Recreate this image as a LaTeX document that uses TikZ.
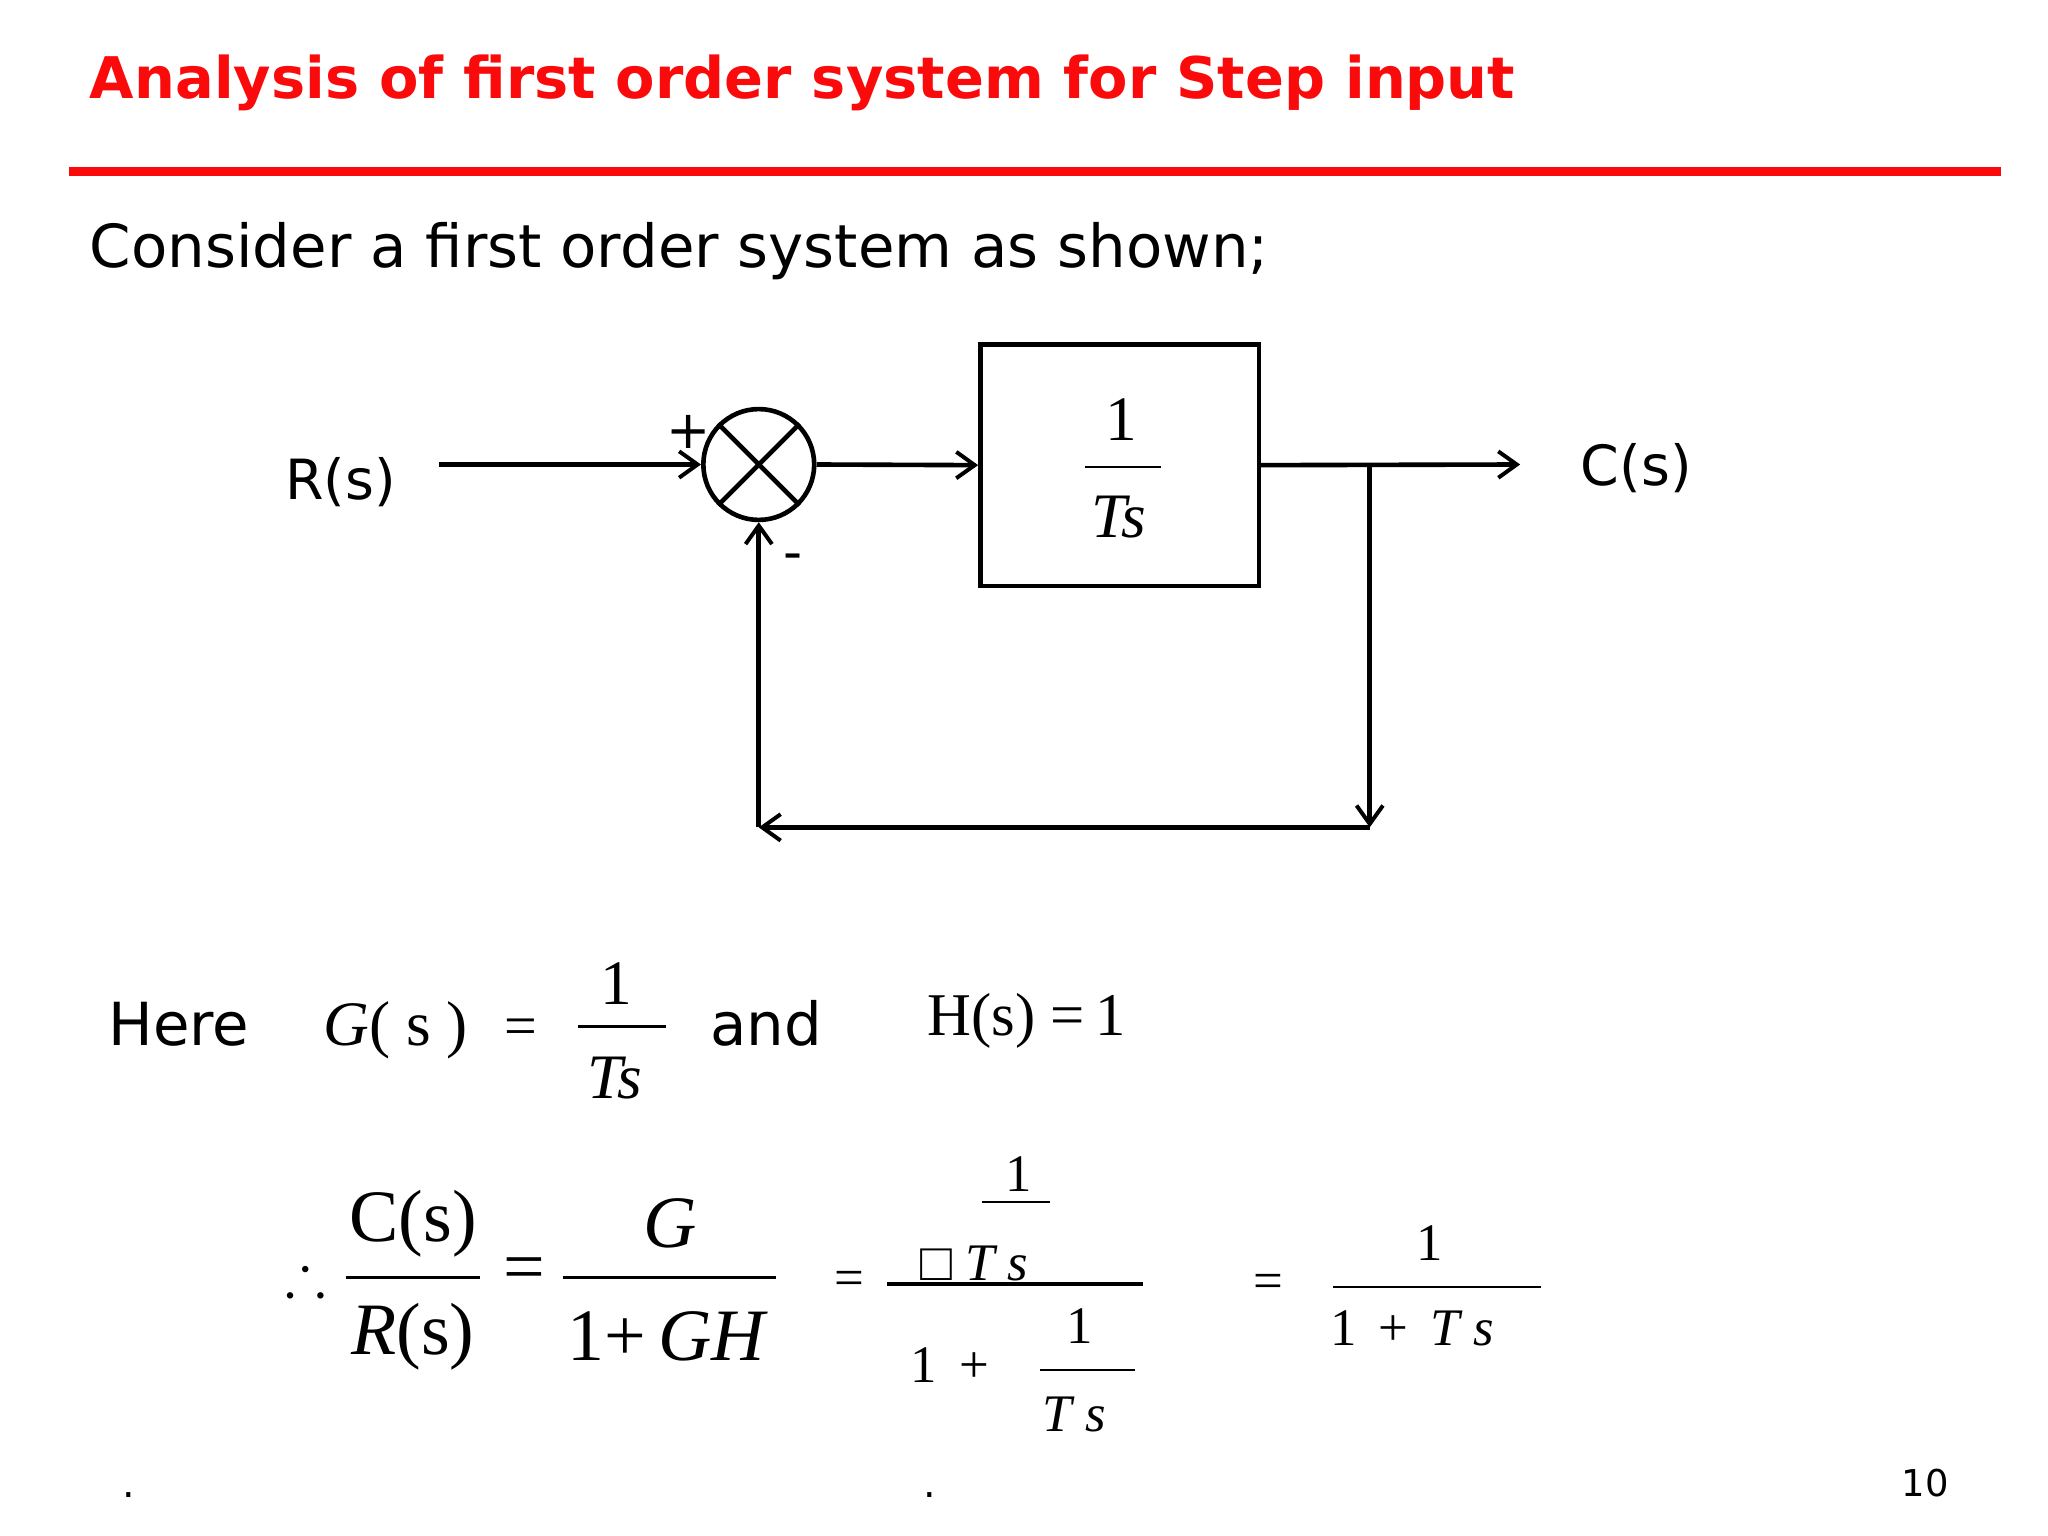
\documentclass[tikz,border=0pt]{standalone}
\usepackage{amssymb}
\usepackage{fontspec}
\setmainfont{DejaVu Sans}
\newfontfamily\tms{Liberation Serif}
\usetikzlibrary{arrows.meta}
\definecolor{tred}{RGB}{250,10,10}
\begin{document}
\begin{tikzpicture}[x=1pt,y=-1pt,
  wire/.style={line width=3.5pt},
  arr/.style={wire,-{Straight Barb[length=14pt,width=20pt,line width=3pt]}},
  txt/.style={inner sep=0pt,anchor=base west},
  fs/.style={font=\fontsize{#1}{#1}\selectfont},
  sr/.style={inner sep=0pt,font=\fontsize{#1}{#1}\selectfont\tms},
  fr/.style={line width=2pt}]
\useasboundingbox (0,0) rectangle (1552,1164);
\fill[white] (0,0) rectangle (1552,1164);
\node[txt,text=tred,font=\fontsize{43.5}{43.5}\selectfont\bfseries] (title) at (68,75) {Analysis of first order system for Step input};
\coordinate (l1) at (52,130); \coordinate (l2) at (1516,130);
\draw[tred,line width=7pt] (l1)--(l2);
\node[txt,fs=45] (cons) at (68,203) {Consider a first order system as shown;};
% block diagram
\node[fs=42,inner sep=0pt] (R) at (258,365) {R(s)};
\node[fs=42,inner sep=0pt] (C) at (1240,355) {C(s)};
\node[circle,draw,line width=3.5pt,minimum size=84pt,inner sep=0pt] (sum) at (575,352) {};
\draw[line width=3.5pt] (sum.45)--(sum.225) (sum.135)--(sum.315);
\node[fs=40,inner sep=0pt] (plus) at (522,327) {+};
\node[fs=40,inner sep=0pt] (minus) at (601,426) {-};
\node[draw,line width=3.5pt,minimum width=211pt,minimum height=183pt,inner sep=0pt] (G) at (848.5,352.5) {};
\node[sr=48] (gn) at (850,318) {1};
\coordinate (ga) at (822,354); \coordinate (gb) at (880,354);
\draw[fr] (ga)--(gb);
\node[sr=48,font=\fontsize{48}{48}\selectfont\tms\itshape] (gd) at (848,392) {Ts};
\coordinate (rin) at (333,352);
\coordinate (out) at (1152,352);
\coordinate (br) at (1038,352);
\coordinate (bd) at (1038,627);
\coordinate (bl) at (575,627);
\draw[arr] (rin)--(sum.west);
\draw[arr] (sum.east)--(G.west);
\draw[arr] (G.east)--(out);
\draw[arr] (br)--(bd);
\draw[arr] (bd)--(bl);
\draw[arr] (bl)--(sum.south);
% lower equations
\node[txt,fs=45] (here) at (82,792) {Here};
\node[txt,font=\fontsize{48}{48}\selectfont\tms] (gs) at (245,792) {\itshape G\upshape ( s )};
\node[txt,font=\fontsize{44}{44}\selectfont\tms] (eq1) at (382,792) {=};
\node[sr=48] (gfn) at (467,745) {1};
\coordinate (gfa) at (438,778); \coordinate (gfb) at (505,778);
\draw[fr] (gfa)--(gfb);
\node[sr=48,font=\fontsize{48}{48}\selectfont\tms\itshape] (gfd) at (466,817) {Ts};
\node[txt,fs=45] (and) at (538,792) {and};
\node[txt,font=\fontsize{46}{46}\selectfont\tms] (hs) at (703,785) {H(s) =\,1};
% row 2
\node[fs=46,inner sep=0pt] (there) at (232,965) {$\therefore$};
\node[sr=56] (cn) at (313,927) {C(s)};
\coordinate (ca) at (262,968); \coordinate (cb) at (364,968);
\draw[fr] (ca)--(cb);
\node[sr=56] (cd) at (313,1013) {\itshape R\upshape (s)};
\node[sr=56] (eq2) at (397,966) {=};
\node[sr=56,font=\fontsize{56}{56}\selectfont\tms\itshape] (ghn) at (508,927) {G};
\coordinate (gha) at (427,968); \coordinate (ghb) at (588,968);
\draw[fr] (gha)--(ghb);
\node[sr=56] (ghd) at (505,1013) {1+\,\itshape GH};
\node[txt,font=\fontsize{40}{40}\selectfont\tms] (eq3) at (632,982) {=};
\node[txt,font=\fontsize{40}{40}\selectfont\tms] (n1) at (762,903) {1};
\coordinate (f1a) at (744,911); \coordinate (f1b) at (796,911);
\draw[line width=1.5pt] (f1a)--(f1b);
\node[txt,font=\fontsize{40}{40}\selectfont\tms] (bx) at (697,970) {□ \itshape T s};
\coordinate (m1) at (672,973); \coordinate (m2) at (866,973);
\draw[line width=3pt] (m1)--(m2);
\node[txt,font=\fontsize{40}{40}\selectfont\tms] (op) at (690,1048) {1\, +};
\node[txt,font=\fontsize{40}{40}\selectfont\tms] (n2) at (808,1018) {1};
\coordinate (f2a) at (788,1038); \coordinate (f2b) at (860,1038);
\draw[line width=1.5pt] (f2a)--(f2b);
\node[txt,font=\fontsize{40}{40}\selectfont\tms\itshape] (ts2) at (790,1085) {T s};
\node[txt,font=\fontsize{40}{40}\selectfont\tms] (eq4) at (950,984) {=};
\node[txt,font=\fontsize{40}{40}\selectfont\tms] (n3) at (1073,955) {1};
\coordinate (f3a) at (1010,975); \coordinate (f3b) at (1168,975);
\draw[line width=1.5pt] (f3a)--(f3b);
\node[txt,font=\fontsize{40}{40}\selectfont\tms] (d3) at (1008,1020) {1\, +\, \itshape T s};
% footer
\node[txt,fs=30] (dot1) at (93,1135) {.};
\node[txt,fs=30] (dot2) at (700,1135) {.};
\node[txt,fs=28] (pg) at (1441,1134) {10};
\end{tikzpicture}
\end{document}
